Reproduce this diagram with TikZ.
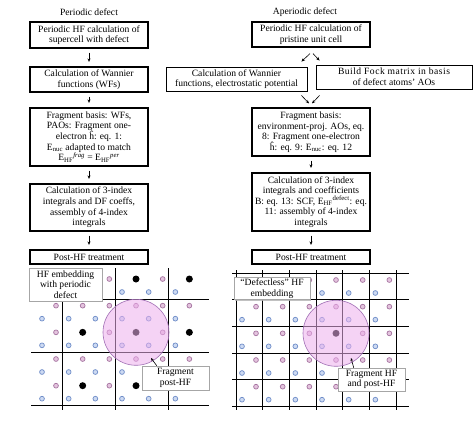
\documentclass[tikz,border=0pt]{standalone}
\usepackage{fontspec}
\setmainfont{Liberation Serif}
\usetikzlibrary{arrows.meta,shadows}
\definecolor{pkfill}{RGB}{228,196,222}
\definecolor{pkedge}{RGB}{165,115,160}
\definecolor{blfill}{RGB}{205,218,242}
\definecolor{bledge}{RGB}{110,140,200}
\definecolor{circfill}{RGB}{238,175,238}
\definecolor{circedge}{RGB}{160,110,180}
\tikzset{
  txt/.style={font=\fontsize{9.6}{10.6}\selectfont},
  box/.style={txt, draw, line width=1.2pt, fill=white, align=center, minimum width=118pt, inner sep=1.5pt},
  lbl/.style={txt, draw=gray!70, line width=0.5pt, fill=white, align=center, inner sep=1pt,
     drop shadow={shadow xshift=1.3pt, shadow yshift=-1.3pt, fill=gray!60, opacity=0.8}},
  arr/.style={-{Stealth[length=3.5pt,width=3pt]}, line width=0.6pt},
  grid line/.style={line width=0.9pt},
  pk/.style={fill=pkfill, draw=pkedge, line width=0.7pt},
  bl/.style={fill=blfill, draw=bledge, line width=0.7pt},
  circ/.style={fill=circfill, fill opacity=0.55, draw=circedge, line width=0.6pt},
}
\begin{document}
\begin{tikzpicture}[x=1pt,y=-1pt]
\useasboundingbox (0,0) rectangle (474,426);
\fill[white] (0,0) rectangle (474,426);

% titles
\node[txt] (tL) at (89,12) {Periodic defect};
\node[txt] (tR) at (305,12) {Aperiodic defect};

% left column
\node[box, minimum height=26pt] (L1) at (89,35) {Periodic HF calculation of\\supercell with defect};
\node[box, minimum height=25pt] (L2) at (89,79.5) {Calculation of Wannier\\functions (WFs)};
\node[box, minimum height=58pt] (L3) at (89,137) {Fragment basis: WFs,\\PAOs: Fragment one-\\electron ĥ: eq. 1:\\E\textsubscript{nuc} adapted to match\\E\textsubscript{HF}\textsuperscript{\textit{frag}} = E\textsubscript{HF}\textsuperscript{\textit{per}}};
\node[box, minimum height=47pt] (L4) at (89,207.5) {Calculation of 3-index\\integrals and DF coeffs,\\assembly of 4-index\\integrals};
\node[box, minimum height=14pt, inner ysep=0.5pt] (L5) at (89,257) {Post-HF treatment};

\foreach \a/\b in {L1/L2,L2/L3,L3/L4,L4/L5}
  \draw[arr, shorten <=4pt, shorten >=4.5pt] (\a.south) -- (\b.north);

% right column
\node[box, minimum height=25pt] (R1) at (311,34.5) {Periodic HF calculation of\\pristine unit cell};
\node[box, minimum width=141pt, minimum height=24pt, line width=0.9pt] (RL) at (236.5,79) {Calculation of Wannier\\functions, electrostatic potential};
\node[box, minimum width=156pt, minimum height=24pt, line width=0.9pt] (RR) at (394,77) {{\addfontfeature{LetterSpace=5}Build Fock matrix in basis}\\of defect atoms' AOs};
\node[box, minimum height=48pt] (R3) at (311,132) {Fragment basis:\\environment-proj. AOs, eq.\\8: Fragment one-electron\\ĥ: eq. 9: E\textsubscript{nuc}: eq. 12};
\node[box, minimum height=58pt] (R4) at (311,202) {Calculation of 3-index\\integrals and coefficients\\B: eq. 13: SCF, E\textsubscript{HF}\textsuperscript{defect}: eq.\\11: assembly of 4-index\\integrals};
\node[box, minimum height=14pt, inner ysep=0.5pt] (R5) at (311,257) {Post-HF treatment};

\draw[arr] ([shift={(-1,6)}]R1.south) -- ([shift={(-6,-5)}]RL.north east);
\draw[arr] ([shift={(2,6)}]R1.south) -- ([shift={(4,-4)}]RR.north west);
\draw[arr] ([shift={(-6,4)}]RL.south east) -- ([shift={(-2,-4)}]R3.north);
\draw[arr] ([shift={(4,6)}]RR.south west) -- ([shift={(1,-4)}]R3.north);
\foreach \a/\b in {R3/R4,R4/R5}
  \draw[arr, shorten <=4pt, shorten >=4.5pt] (\a.south) -- (\b.north);

% ---------- left lattice ----------
\foreach \y in {299,352.3,405.7} \draw[grid line] (31,\y) -- (209,\y);
\foreach \x in {62,115.3,168.7} \draw[grid line] (\x,268) -- (\x,410);
\foreach \i in {0,...,5} \foreach \j in {0,...,4}
  \draw[bl] ({42+26.67*\i},{292+26.67*\j}) circle[radius=2.4pt];
\foreach \i in {0,...,5} \foreach \j in {1,3}
  \draw[pk] ({56+26.67*\i},{279+26.67*\j}) circle[radius=2.4pt];
\foreach \i in {0,2,4} \foreach \j in {0,2,4}
  \draw[pk] ({56+26.67*\i},{279+26.67*\j}) circle[radius=2.4pt];
\foreach \i in {1,3,5} \foreach \j in {0,2,4}
  \fill ({56+26.67*\i},{279+26.67*\j}) circle[radius=3.5pt];
\draw[circ] (136,332.3) circle[radius=33pt];

\node[lbl, minimum width=73pt, minimum height=33pt] (EL) at (65.5,284.5) {HF embedding\\with periodic\\defect};
\node[lbl, minimum width=67pt, minimum height=24pt] (FL) at (175.5,378) {Fragment\\post-HF};
\coordinate (tipL) at (151,358);
\draw[arr, -{Stealth[length=3pt,width=2.5pt]}] ([xshift=15pt]FL.north west) -- (tipL);

% ---------- right lattice ----------
\foreach \k in {0,...,5} \draw[grid line] (232,{273+26.67*\k}) -- (409,{273+26.67*\k});
\foreach \k in {0,...,6} \draw[grid line] ({236+26.67*\k},270) -- ({236+26.67*\k},410);
\foreach \i in {0,...,5} \foreach \j in {0,...,4}
  \draw[bl] ({242+26.67*\i},{293+26.67*\j}) circle[radius=2.4pt];
\foreach \i in {0,...,5} \foreach \j in {0,...,4}{
  \ifnum\i=3 \ifnum\j=2 \else
    \draw[pk] ({256+26.67*\i},{280+26.67*\j}) circle[radius=2.4pt];
  \fi \else
    \draw[pk] ({256+26.67*\i},{280+26.67*\j}) circle[radius=2.4pt];
  \fi}
\fill (336,333.3) circle[radius=3.5pt];
\draw[circ] (336,333.3) circle[radius=33pt];

\node[lbl, minimum width=76pt, minimum height=22pt] (ER) at (272,288.5) {“Defectless” HF\\embedding};
\node[lbl, minimum width=67pt, minimum height=23pt] (FR) at (371.5,379.5) {Fragment HF\\and post-HF};
\coordinate (tipR) at (351,358);
\draw[arr, -{Stealth[length=3pt,width=2.5pt]}] ([xshift=16pt]FR.north west) -- (tipR);
\end{tikzpicture}
\end{document}
